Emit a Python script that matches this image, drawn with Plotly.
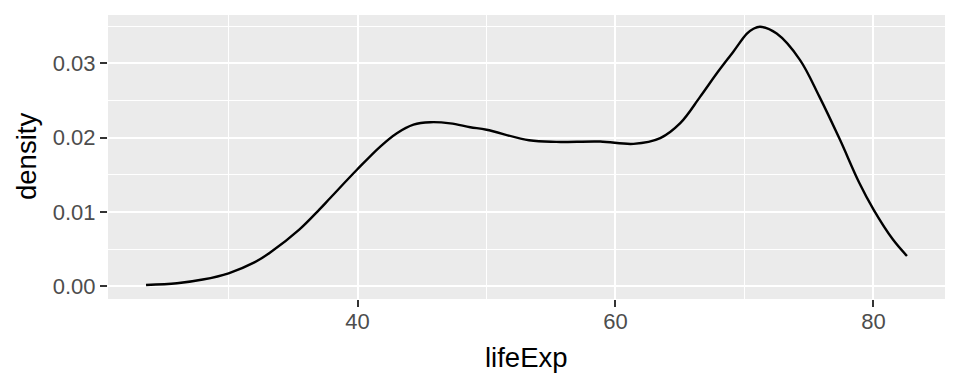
import plotly.graph_objects as go

life_exp = [23.6, 26.0, 28.0, 30.0, 32.0, 33.2, 35.5, 37.05, 37.88, 39.95, 41.76, 43.05,
            44.34, 45.64, 47.19, 48.74, 50.0, 53.3, 55.4, 58.81, 61.4, 63.47, 65.02,
            66.57, 67.86, 69.15, 70.19, 70.7, 71.22, 72.5, 74.3, 75.8, 77.4, 78.9,
            80.0, 81.5, 82.6]
density = [0.00017, 0.0004, 0.0009, 0.00174, 0.0032, 0.0045, 0.00765, 0.01034, 0.01187,
           0.01567, 0.0188, 0.0206, 0.02175, 0.02207, 0.02192, 0.0214, 0.02105,
           0.01964, 0.01942, 0.01947, 0.01916, 0.01993, 0.02194, 0.02551, 0.02866,
           0.0316, 0.0340, 0.03465, 0.03491, 0.0340, 0.03047, 0.02555, 0.01973,
           0.01392, 0.01034, 0.00631, 0.00407]

x_ticks = [40, 60, 80]
x_minor = [30, 50, 70]
y_ticks = [0.00, 0.01, 0.02, 0.03]
y_minor = [0.005, 0.015, 0.025, 0.035]
y_tick_labels = ["0.00", "0.01", "0.02", "0.03"]
x_title = "lifeExp"
y_title = "density"

fig = go.Figure(go.Scatter(
    x=life_exp, y=density, mode="lines",
    line=dict(color="black", width=2.4, shape="spline", smoothing=1.0),
    hoverinfo="skip", showlegend=False))

font = "Liberation Sans, Arial, Helvetica, sans-serif"
axis_common = dict(
    showline=False, zeroline=False, ticks="outside", ticklen=7, tickwidth=2.1,
    tickcolor="#333333", gridcolor="white", gridwidth=2.1, automargin=False,
    tickfont=dict(family=font, size=22, color="#4D4D4D"),
)
fig.update_xaxes(
    **axis_common, range=[20.65, 85.55], tickvals=x_ticks,
    ticktext=[str(v) for v in x_ticks], ticklabelstandoff=-4,
    minor=dict(tickvals=x_minor, showgrid=True, gridcolor="white", gridwidth=1.05, ticks=""),
)
fig.update_yaxes(
    **axis_common, range=[-0.00172, 0.0365], tickvals=y_ticks, ticktext=y_tick_labels,
    minor=dict(tickvals=y_minor, showgrid=True, gridcolor="white", gridwidth=1.05, ticks=""),
)
fig.add_annotation(text=x_title, xref="paper", yref="paper", x=0.5, y=0,
                   xanchor="center", yanchor="middle", yshift=-58, showarrow=False,
                   font=dict(family=font, size=27.5, color="black"))
fig.add_annotation(text=y_title, xref="paper", yref="paper", x=0, y=0.5,
                   xanchor="center", yanchor="middle", xshift=-82, textangle=-90,
                   showarrow=False, font=dict(family=font, size=27.5, color="black"))
fig.update_layout(
    width=960, height=384, plot_bgcolor="#EBEBEB", paper_bgcolor="white",
    margin=dict(l=108, r=15, t=15, b=85),
)
fig.write_html("out.html", config={"displayModeBar": False},
               post_script="document.body.style.margin='0px';")
